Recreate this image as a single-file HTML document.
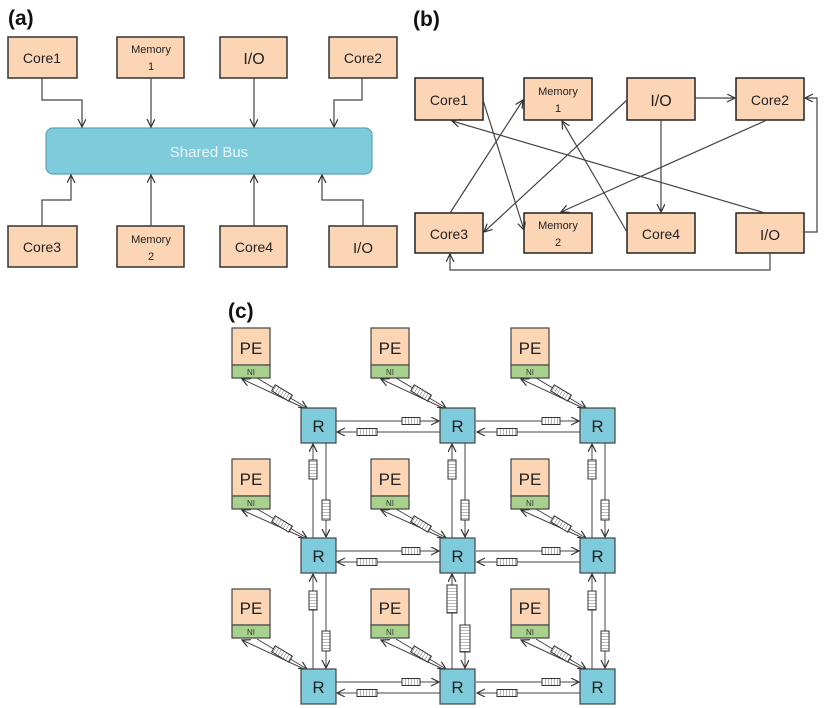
<!DOCTYPE html>
<html><head><meta charset="utf-8"><style>
html,body{margin:0;padding:0;background:#fff;}
svg{display:block;font-family:"Liberation Sans",sans-serif;}
</style></head><body>
<svg width="832" height="708" viewBox="0 0 832 708" xmlns="http://www.w3.org/2000/svg">
<defs>
<marker id="ar" markerWidth="10" markerHeight="10" refX="8" refY="4" orient="auto" markerUnits="userSpaceOnUse">
<path d="M0,0 L8,4 L0,8" fill="none" stroke="#333" stroke-width="1.2"/></marker>
<pattern id="h" width="3" height="20" patternUnits="userSpaceOnUse"><rect width="3" height="20" fill="#fff"/><line x1="0" y1="0" x2="0" y2="20" stroke="#444" stroke-width="0.8"/></pattern>
<pattern id="hv" width="20" height="3" patternUnits="userSpaceOnUse"><rect width="20" height="3" fill="#fff"/><line x1="0" y1="0" x2="20" y2="0" stroke="#444" stroke-width="0.8"/></pattern>
</defs>
<g font-weight="bold" font-size="21" fill="#111">
<text x="8" y="25">(a)</text><text x="413" y="26">(b)</text><text x="228" y="318">(c)</text>
</g>

<!-- (a) -->
<g fill="#fcd5b5" stroke="#333" stroke-width="1.5">
<rect x="8" y="37" width="69" height="41"/><rect x="117" y="37" width="67" height="41"/><rect x="220" y="37" width="67" height="41"/><rect x="329" y="37" width="68" height="41"/>
<rect x="8" y="226" width="69" height="41"/><rect x="117" y="226" width="67" height="41"/><rect x="220" y="226" width="67" height="41"/><rect x="329" y="226" width="68" height="41"/>
</g>
<rect x="46" y="128" width="326" height="46" rx="7" fill="#7ecbdc" stroke="#5aa5b8" stroke-width="1.2"/>
<text x="209" y="157" font-size="15" fill="#e9f7fa" text-anchor="middle">Shared Bus</text>
<g font-size="14" fill="#222" text-anchor="middle">
<text x="42" y="63">Core1</text><text x="254" y="64" font-size="16">I/O</text><text x="363" y="63">Core2</text>
<text x="42" y="252">Core3</text><text x="254" y="252">Core4</text><text x="363" y="253" font-size="15">I/O</text>
</g>
<g font-size="11" fill="#222" text-anchor="middle">
<text x="151" y="53">Memory</text><text x="151" y="70">1</text>
<text x="151" y="243">Memory</text><text x="151" y="260">2</text>
</g>
<g fill="none" stroke="#444" stroke-width="1.2">
<polyline points="42,78 42,100 82,100 82,127" marker-end="url(#ar)"/>
<polyline points="151,78 151,127" marker-end="url(#ar)"/>
<polyline points="254,78 254,127" marker-end="url(#ar)"/>
<polyline points="362,78 362,100 334,100 334,127" marker-end="url(#ar)"/>
<polyline points="42,226 42,200 71,200 71,175" marker-end="url(#ar)"/>
<polyline points="151,226 151,175" marker-end="url(#ar)"/>
<polyline points="254,226 254,175" marker-end="url(#ar)"/>
<polyline points="363,226 363,200 322,200 322,175" marker-end="url(#ar)"/>
</g>

<!-- (b) -->
<g fill="#fcd5b5" stroke="#222" stroke-width="1.5">
<rect x="415" y="78" width="68" height="42"/><rect x="524" y="78" width="68" height="42"/><rect x="627" y="78" width="68" height="42"/><rect x="736" y="78" width="68" height="42"/>
<rect x="415" y="213" width="68" height="40"/><rect x="524" y="213" width="68" height="40"/><rect x="627" y="213" width="68" height="40"/><rect x="736" y="213" width="68" height="40"/>
</g>
<g font-size="14" fill="#222" text-anchor="middle">
<text x="449" y="105">Core1</text><text x="661" y="106" font-size="16">I/O</text><text x="770" y="105">Core2</text>
<text x="449" y="239">Core3</text><text x="661" y="239">Core4</text><text x="770" y="240" font-size="15">I/O</text>
</g>
<g font-size="11" fill="#222" text-anchor="middle">
<text x="558" y="95">Memory</text><text x="558" y="112">1</text>
<text x="558" y="229">Memory</text><text x="558" y="246">2</text>
</g>
<g fill="none" stroke="#444" stroke-width="1.2">
<line x1="483" y1="100" x2="524" y2="230" marker-end="url(#ar)"/>
<line x1="450" y1="213" x2="523" y2="100" marker-end="url(#ar)"/>
<line x1="627" y1="100" x2="484" y2="232" marker-end="url(#ar)"/>
<line x1="695" y1="98" x2="735" y2="98" marker-end="url(#ar)"/>
<line x1="661" y1="120" x2="661" y2="212" marker-end="url(#ar)"/>
<line x1="767" y1="120" x2="561" y2="212" marker-end="url(#ar)"/>
<line x1="627" y1="232" x2="562" y2="121" marker-end="url(#ar)"/>
<line x1="765" y1="213" x2="452" y2="121" marker-end="url(#ar)"/>
<polyline points="804,232 817,232 817,98 805,98" marker-end="url(#ar)"/>
<polyline points="770,253 770,270 450,270 450,254" marker-end="url(#ar)"/>
</g>

<!-- (c) horizontal links -->
<g id="hl">
<g transform="translate(336,408)"><line x1="0" y1="13" x2="103" y2="13" stroke="#444" marker-end="url(#ar)"/><rect x="66" y="9.5" width="18" height="7" fill="url(#h)" stroke="#333"/><line x1="104" y1="24" x2="1" y2="24" stroke="#444" marker-end="url(#ar)"/><rect x="21" y="20.5" width="20" height="7" fill="url(#h)" stroke="#333"/></g>
<g transform="translate(476,408)"><line x1="0" y1="13" x2="103" y2="13" stroke="#444" marker-end="url(#ar)"/><rect x="66" y="9.5" width="18" height="7" fill="url(#h)" stroke="#333"/><line x1="104" y1="24" x2="1" y2="24" stroke="#444" marker-end="url(#ar)"/><rect x="21" y="20.5" width="20" height="7" fill="url(#h)" stroke="#333"/></g>
<g transform="translate(336,538)"><line x1="0" y1="13" x2="103" y2="13" stroke="#444" marker-end="url(#ar)"/><rect x="66" y="9.5" width="18" height="7" fill="url(#h)" stroke="#333"/><line x1="104" y1="24" x2="1" y2="24" stroke="#444" marker-end="url(#ar)"/><rect x="21" y="20.5" width="20" height="7" fill="url(#h)" stroke="#333"/></g>
<g transform="translate(476,538)"><line x1="0" y1="13" x2="103" y2="13" stroke="#444" marker-end="url(#ar)"/><rect x="66" y="9.5" width="18" height="7" fill="url(#h)" stroke="#333"/><line x1="104" y1="24" x2="1" y2="24" stroke="#444" marker-end="url(#ar)"/><rect x="21" y="20.5" width="20" height="7" fill="url(#h)" stroke="#333"/></g>
<g transform="translate(336,669)"><line x1="0" y1="13" x2="103" y2="13" stroke="#444" marker-end="url(#ar)"/><rect x="66" y="9.5" width="18" height="7" fill="url(#h)" stroke="#333"/><line x1="104" y1="24" x2="1" y2="24" stroke="#444" marker-end="url(#ar)"/><rect x="21" y="20.5" width="20" height="7" fill="url(#h)" stroke="#333"/></g>
<g transform="translate(476,669)"><line x1="0" y1="13" x2="103" y2="13" stroke="#444" marker-end="url(#ar)"/><rect x="66" y="9.5" width="18" height="7" fill="url(#h)" stroke="#333"/><line x1="104" y1="24" x2="1" y2="24" stroke="#444" marker-end="url(#ar)"/><rect x="21" y="20.5" width="20" height="7" fill="url(#h)" stroke="#333"/></g>
</g>
<!-- vertical links -->
<g>
<g transform="translate(301,443)"><line x1="12" y1="95" x2="12" y2="1" stroke="#444" marker-end="url(#ar)"/><rect x="8" y="17" width="8" height="19" fill="url(#hv)" stroke="#333"/><line x1="25" y1="0" x2="25" y2="94" stroke="#444" marker-end="url(#ar)"/><rect x="21" y="57" width="8" height="20" fill="url(#hv)" stroke="#333"/></g>
<g transform="translate(440,443)"><line x1="12" y1="95" x2="12" y2="1" stroke="#444" marker-end="url(#ar)"/><rect x="8" y="17" width="8" height="19" fill="url(#hv)" stroke="#333"/><line x1="25" y1="0" x2="25" y2="94" stroke="#444" marker-end="url(#ar)"/><rect x="21" y="57" width="8" height="20" fill="url(#hv)" stroke="#333"/></g>
<g transform="translate(580,443)"><line x1="12" y1="95" x2="12" y2="1" stroke="#444" marker-end="url(#ar)"/><rect x="8" y="17" width="8" height="19" fill="url(#hv)" stroke="#333"/><line x1="25" y1="0" x2="25" y2="94" stroke="#444" marker-end="url(#ar)"/><rect x="21" y="57" width="8" height="20" fill="url(#hv)" stroke="#333"/></g>
<g transform="translate(301,573)"><line x1="12" y1="96" x2="12" y2="1" stroke="#444" marker-end="url(#ar)"/><rect x="8" y="18" width="8" height="19" fill="url(#hv)" stroke="#333"/><line x1="25" y1="0" x2="25" y2="95" stroke="#444" marker-end="url(#ar)"/><rect x="21" y="58" width="8" height="20" fill="url(#hv)" stroke="#333"/></g>
<g transform="translate(440,573)"><line x1="12" y1="96" x2="12" y2="1" stroke="#444" marker-end="url(#ar)"/><rect x="7" y="12" width="10" height="28" fill="url(#hv)" stroke="#333"/><line x1="25" y1="0" x2="25" y2="95" stroke="#444" marker-end="url(#ar)"/><rect x="20" y="52" width="10" height="27" fill="url(#hv)" stroke="#333"/></g>
<g transform="translate(580,573)"><line x1="12" y1="96" x2="12" y2="1" stroke="#444" marker-end="url(#ar)"/><rect x="8" y="18" width="8" height="19" fill="url(#hv)" stroke="#333"/><line x1="25" y1="0" x2="25" y2="95" stroke="#444" marker-end="url(#ar)"/><rect x="21" y="58" width="8" height="20" fill="url(#hv)" stroke="#333"/></g>
</g>

<!-- cells -->
<g id="cells">
<g transform="translate(232,328)"><line x1="72" y1="80" x2="10" y2="51" stroke="#444" marker-end="url(#ar)"/><line x1="25" y1="50" x2="75" y2="80" stroke="#444" marker-end="url(#ar)"/><rect x="-10" y="-3.5" width="20" height="7" fill="url(#h)" stroke="#333" transform="translate(50,65) rotate(31)"/><rect x="0" y="0" width="38" height="37" fill="#fcd5b5" stroke="#444" stroke-width="1.2"/><text x="19" y="26" font-size="17" text-anchor="middle" fill="#222">PE</text><rect x="0" y="37" width="38" height="13" fill="#a9d18e" stroke="#444" stroke-width="1.2"/><text x="19" y="47" font-size="8" text-anchor="middle" fill="#333">NI</text><rect x="69" y="80" width="35" height="35" fill="#7ecbdc" stroke="#444" stroke-width="1.2"/><text x="86.5" y="104" font-size="17" text-anchor="middle" fill="#222">R</text></g>
<g transform="translate(371,328)"><line x1="72" y1="80" x2="10" y2="51" stroke="#444" marker-end="url(#ar)"/><line x1="25" y1="50" x2="75" y2="80" stroke="#444" marker-end="url(#ar)"/><rect x="-10" y="-3.5" width="20" height="7" fill="url(#h)" stroke="#333" transform="translate(50,65) rotate(31)"/><rect x="0" y="0" width="38" height="37" fill="#fcd5b5" stroke="#444" stroke-width="1.2"/><text x="19" y="26" font-size="17" text-anchor="middle" fill="#222">PE</text><rect x="0" y="37" width="38" height="13" fill="#a9d18e" stroke="#444" stroke-width="1.2"/><text x="19" y="47" font-size="8" text-anchor="middle" fill="#333">NI</text><rect x="69" y="80" width="35" height="35" fill="#7ecbdc" stroke="#444" stroke-width="1.2"/><text x="86.5" y="104" font-size="17" text-anchor="middle" fill="#222">R</text></g>
<g transform="translate(511,328)"><line x1="72" y1="80" x2="10" y2="51" stroke="#444" marker-end="url(#ar)"/><line x1="25" y1="50" x2="75" y2="80" stroke="#444" marker-end="url(#ar)"/><rect x="-10" y="-3.5" width="20" height="7" fill="url(#h)" stroke="#333" transform="translate(50,65) rotate(31)"/><rect x="0" y="0" width="38" height="37" fill="#fcd5b5" stroke="#444" stroke-width="1.2"/><text x="19" y="26" font-size="17" text-anchor="middle" fill="#222">PE</text><rect x="0" y="37" width="38" height="13" fill="#a9d18e" stroke="#444" stroke-width="1.2"/><text x="19" y="47" font-size="8" text-anchor="middle" fill="#333">NI</text><rect x="69" y="80" width="35" height="35" fill="#7ecbdc" stroke="#444" stroke-width="1.2"/><text x="86.5" y="104" font-size="17" text-anchor="middle" fill="#222">R</text></g>
<g transform="translate(232,459)"><line x1="72" y1="79" x2="10" y2="51" stroke="#444" marker-end="url(#ar)"/><line x1="25" y1="50" x2="75" y2="79" stroke="#444" marker-end="url(#ar)"/><rect x="-10" y="-3.5" width="20" height="7" fill="url(#h)" stroke="#333" transform="translate(50,65) rotate(31)"/><rect x="0" y="0" width="38" height="37" fill="#fcd5b5" stroke="#444" stroke-width="1.2"/><text x="19" y="26" font-size="17" text-anchor="middle" fill="#222">PE</text><rect x="0" y="37" width="38" height="13" fill="#a9d18e" stroke="#444" stroke-width="1.2"/><text x="19" y="47" font-size="8" text-anchor="middle" fill="#333">NI</text><rect x="69" y="79" width="35" height="35" fill="#7ecbdc" stroke="#444" stroke-width="1.2"/><text x="86.5" y="103" font-size="17" text-anchor="middle" fill="#222">R</text></g>
<g transform="translate(371,459)"><line x1="72" y1="79" x2="10" y2="51" stroke="#444" marker-end="url(#ar)"/><line x1="25" y1="50" x2="75" y2="79" stroke="#444" marker-end="url(#ar)"/><rect x="-10" y="-3.5" width="20" height="7" fill="url(#h)" stroke="#333" transform="translate(50,65) rotate(31)"/><rect x="0" y="0" width="38" height="37" fill="#fcd5b5" stroke="#444" stroke-width="1.2"/><text x="19" y="26" font-size="17" text-anchor="middle" fill="#222">PE</text><rect x="0" y="37" width="38" height="13" fill="#a9d18e" stroke="#444" stroke-width="1.2"/><text x="19" y="47" font-size="8" text-anchor="middle" fill="#333">NI</text><rect x="69" y="79" width="35" height="35" fill="#7ecbdc" stroke="#444" stroke-width="1.2"/><text x="86.5" y="103" font-size="17" text-anchor="middle" fill="#222">R</text></g>
<g transform="translate(511,459)"><line x1="72" y1="79" x2="10" y2="51" stroke="#444" marker-end="url(#ar)"/><line x1="25" y1="50" x2="75" y2="79" stroke="#444" marker-end="url(#ar)"/><rect x="-10" y="-3.5" width="20" height="7" fill="url(#h)" stroke="#333" transform="translate(50,65) rotate(31)"/><rect x="0" y="0" width="38" height="37" fill="#fcd5b5" stroke="#444" stroke-width="1.2"/><text x="19" y="26" font-size="17" text-anchor="middle" fill="#222">PE</text><rect x="0" y="37" width="38" height="13" fill="#a9d18e" stroke="#444" stroke-width="1.2"/><text x="19" y="47" font-size="8" text-anchor="middle" fill="#333">NI</text><rect x="69" y="79" width="35" height="35" fill="#7ecbdc" stroke="#444" stroke-width="1.2"/><text x="86.5" y="103" font-size="17" text-anchor="middle" fill="#222">R</text></g>
<g transform="translate(232,589)"><line x1="72" y1="80" x2="10" y2="51" stroke="#444" marker-end="url(#ar)"/><line x1="25" y1="50" x2="75" y2="80" stroke="#444" marker-end="url(#ar)"/><rect x="-10" y="-3.5" width="20" height="7" fill="url(#h)" stroke="#333" transform="translate(50,65) rotate(31)"/><rect x="0" y="0" width="38" height="36" fill="#fcd5b5" stroke="#444" stroke-width="1.2"/><text x="19" y="25" font-size="17" text-anchor="middle" fill="#222">PE</text><rect x="0" y="36" width="38" height="13" fill="#a9d18e" stroke="#444" stroke-width="1.2"/><text x="19" y="46" font-size="8" text-anchor="middle" fill="#333">NI</text><rect x="69" y="80" width="35" height="35" fill="#7ecbdc" stroke="#444" stroke-width="1.2"/><text x="86.5" y="104" font-size="17" text-anchor="middle" fill="#222">R</text></g>
<g transform="translate(371,589)"><line x1="72" y1="80" x2="10" y2="51" stroke="#444" marker-end="url(#ar)"/><line x1="25" y1="50" x2="75" y2="80" stroke="#444" marker-end="url(#ar)"/><rect x="-10" y="-3.5" width="20" height="7" fill="url(#h)" stroke="#333" transform="translate(50,65) rotate(31)"/><rect x="0" y="0" width="38" height="36" fill="#fcd5b5" stroke="#444" stroke-width="1.2"/><text x="19" y="25" font-size="17" text-anchor="middle" fill="#222">PE</text><rect x="0" y="36" width="38" height="13" fill="#a9d18e" stroke="#444" stroke-width="1.2"/><text x="19" y="46" font-size="8" text-anchor="middle" fill="#333">NI</text><rect x="69" y="80" width="35" height="35" fill="#7ecbdc" stroke="#444" stroke-width="1.2"/><text x="86.5" y="104" font-size="17" text-anchor="middle" fill="#222">R</text></g>
<g transform="translate(511,589)"><line x1="72" y1="80" x2="10" y2="51" stroke="#444" marker-end="url(#ar)"/><line x1="25" y1="50" x2="75" y2="80" stroke="#444" marker-end="url(#ar)"/><rect x="-10" y="-3.5" width="20" height="7" fill="url(#h)" stroke="#333" transform="translate(50,65) rotate(31)"/><rect x="0" y="0" width="38" height="36" fill="#fcd5b5" stroke="#444" stroke-width="1.2"/><text x="19" y="25" font-size="17" text-anchor="middle" fill="#222">PE</text><rect x="0" y="36" width="38" height="13" fill="#a9d18e" stroke="#444" stroke-width="1.2"/><text x="19" y="46" font-size="8" text-anchor="middle" fill="#333">NI</text><rect x="69" y="80" width="35" height="35" fill="#7ecbdc" stroke="#444" stroke-width="1.2"/><text x="86.5" y="104" font-size="17" text-anchor="middle" fill="#222">R</text></g>
</g>
</svg>
</body></html>
